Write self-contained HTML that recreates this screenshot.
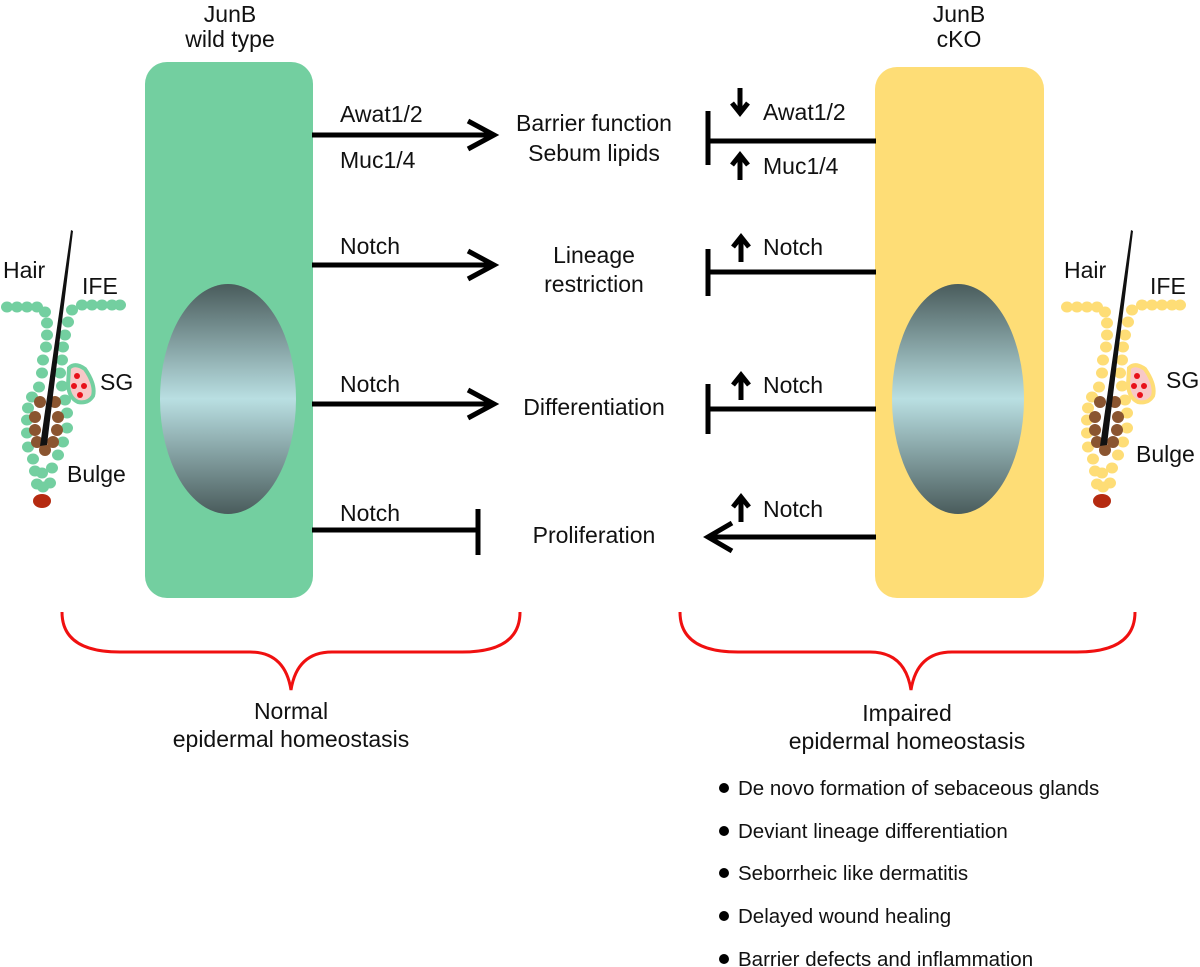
<!DOCTYPE html>
<html><head><meta charset="utf-8"><style>
body{margin:0;background:#fff}
svg{display:block;font-family:"Liberation Sans",sans-serif}
text{font-size:23px;fill:#111}
text.b{font-size:20.5px}
</style></head><body>
<svg width="1200" height="967" viewBox="0 0 1200 967" xmlns="http://www.w3.org/2000/svg">
<defs>
<linearGradient id="g" x1="0" y1="0" x2="0" y2="1">
<stop offset="0" stop-color="#4a5c5c"/><stop offset="0.5" stop-color="#b9dfe2"/><stop offset="1" stop-color="#4a5c5c"/>
</linearGradient>
<g id="fol">
<g fill="currentColor">
<ellipse cx="7" cy="307" rx="6" ry="5.5"/><ellipse cx="17" cy="307" rx="6" ry="5.5"/><ellipse cx="27" cy="307" rx="6" ry="5.5"/><ellipse cx="37" cy="307" rx="6" ry="5.5"/>
<ellipse cx="82" cy="305" rx="6" ry="5.5"/><ellipse cx="92" cy="305" rx="6" ry="5.5"/><ellipse cx="102" cy="305" rx="6" ry="5.5"/><ellipse cx="112" cy="305" rx="6" ry="5.5"/><ellipse cx="120" cy="305" rx="6" ry="5.5"/>
<ellipse cx="45" cy="312" rx="6" ry="5.5"/><ellipse cx="47" cy="323" rx="6" ry="5.5"/><ellipse cx="47" cy="335" rx="6" ry="5.5"/><ellipse cx="46" cy="347" rx="6" ry="5.5"/><ellipse cx="43" cy="360" rx="6" ry="5.5"/><ellipse cx="42" cy="373" rx="6" ry="5.5"/><ellipse cx="39" cy="387" rx="6" ry="5.5"/>
<ellipse cx="32" cy="397" rx="6" ry="5.5"/><ellipse cx="28" cy="408" rx="6" ry="5.5"/><ellipse cx="27" cy="420" rx="6" ry="5.5"/><ellipse cx="27" cy="433" rx="6" ry="5.5"/><ellipse cx="28" cy="447" rx="6" ry="5.5"/><ellipse cx="33" cy="459" rx="6" ry="5.5"/><ellipse cx="35" cy="471" rx="6" ry="5.5"/><ellipse cx="37" cy="484" rx="6" ry="5.5"/>
<ellipse cx="72" cy="310" rx="6" ry="5.5"/><ellipse cx="68" cy="322" rx="6" ry="5.5"/><ellipse cx="65" cy="335" rx="6" ry="5.5"/><ellipse cx="63" cy="347" rx="6" ry="5.5"/><ellipse cx="62" cy="360" rx="6" ry="5.5"/><ellipse cx="60" cy="373" rx="6" ry="5.5"/><ellipse cx="62" cy="386" rx="6" ry="5.5"/>
<ellipse cx="65" cy="400" rx="6" ry="5.5"/><ellipse cx="67" cy="413" rx="6" ry="5.5"/><ellipse cx="67" cy="428" rx="6" ry="5.5"/><ellipse cx="63" cy="442" rx="6" ry="5.5"/><ellipse cx="58" cy="455" rx="6" ry="5.5"/><ellipse cx="52" cy="468" rx="6" ry="5.5"/><ellipse cx="50" cy="483" rx="6" ry="5.5"/>
<ellipse cx="42" cy="473" rx="6" ry="5.5"/><ellipse cx="43" cy="487" rx="6" ry="5.5"/>
</g>
<g fill="#8a5530">
<ellipse cx="40" cy="402" rx="6" ry="6"/><ellipse cx="55" cy="402" rx="6" ry="6"/><ellipse cx="35" cy="417" rx="6" ry="6"/><ellipse cx="58" cy="417" rx="6" ry="6"/><ellipse cx="35" cy="430" rx="6" ry="6"/><ellipse cx="57" cy="430" rx="6" ry="6"/><ellipse cx="37" cy="442" rx="6" ry="6"/><ellipse cx="53" cy="442" rx="6" ry="6"/><ellipse cx="45" cy="450" rx="6" ry="6"/>
</g>
<path d="M69,368 Q75,362 85,369 Q96,385 93,396 Q88,404 78,402 Q69,398 68,385 Z" fill="#f8c8c8" stroke="currentColor" stroke-width="4"/>
<g fill="#e8101a"><circle cx="77" cy="376" r="3"/><circle cx="74" cy="386" r="3"/><circle cx="84" cy="386" r="3"/><circle cx="80" cy="395" r="3"/></g>
<path d="M71,230 L73,231 L47,445 L40,446 Z" fill="#111"/>
<ellipse cx="42" cy="501" rx="9" ry="7" fill="#b52a10"/>
</g>
</defs>

<rect x="145" y="62" width="168" height="536" rx="22" fill="#73cfa0"/>
<rect x="875" y="67" width="169" height="531" rx="22" fill="#fedd76"/>
<ellipse cx="228" cy="399" rx="68" ry="115" fill="url(#g)"/>
<ellipse cx="958" cy="399" rx="66" ry="115" fill="url(#g)"/>

<use href="#fol" style="color:#73cfa0"/>
<use href="#fol" transform="translate(1060,0)" style="color:#fedd76"/>

<text x="3" y="278">Hair</text><text x="82" y="294">IFE</text><text x="100" y="390">SG</text><text x="67" y="482">Bulge</text>
<text x="1064" y="278">Hair</text><text x="1150" y="294">IFE</text><text x="1166" y="388">SG</text><text x="1136" y="462">Bulge</text>

<text x="230" y="22" text-anchor="middle">JunB</text><text x="230" y="47" text-anchor="middle">wild type</text>
<text x="959" y="22" text-anchor="middle">JunB</text><text x="959" y="47" text-anchor="middle">cKO</text>

<g stroke="#000" stroke-width="5" fill="none">
<line x1="312" y1="135" x2="494" y2="135"/><polyline points="468,121 494,135 468,149"/>
<line x1="312" y1="265" x2="494" y2="265"/><polyline points="468,251 494,265 468,279"/>
<line x1="312" y1="404" x2="494" y2="404"/><polyline points="468,390 494,404 468,418"/>
<line x1="312" y1="530" x2="478" y2="530"/><line x1="478" y1="509" x2="478" y2="555"/>
<line x1="708" y1="141" x2="876" y2="141"/><line x1="708" y1="111" x2="708" y2="165"/>
<line x1="708" y1="272" x2="876" y2="272"/><line x1="708" y1="249" x2="708" y2="296"/>
<line x1="708" y1="409" x2="876" y2="409"/><line x1="708" y1="384" x2="708" y2="434"/>
<line x1="708" y1="537" x2="876" y2="537"/><polyline points="732,523 708,537 732,551"/>
<line x1="740" y1="88" x2="740" y2="112"/><polyline points="732,103 740,113 748,103"/>
<line x1="740" y1="180" x2="740" y2="156"/><polyline points="732,165 740,155 748,165"/>
<line x1="741" y1="262" x2="741" y2="238"/><polyline points="733,247 741,237 749,247"/>
<line x1="741" y1="400" x2="741" y2="376"/><polyline points="733,385 741,375 749,385"/>
<line x1="741" y1="522" x2="741" y2="498"/><polyline points="733,507 741,497 749,507"/>
</g>

<text x="340" y="122">Awat1/2</text><text x="340" y="168">Muc1/4</text>
<text x="340" y="254">Notch</text><text x="340" y="392">Notch</text><text x="340" y="521">Notch</text>
<text x="594" y="131" text-anchor="middle">Barrier function</text><text x="594" y="161" text-anchor="middle">Sebum lipids</text>
<text x="594" y="263" text-anchor="middle">Lineage</text><text x="594" y="292" text-anchor="middle">restriction</text>
<text x="594" y="415" text-anchor="middle">Differentiation</text>
<text x="594" y="543" text-anchor="middle">Proliferation</text>
<text x="763" y="120">Awat1/2</text><text x="763" y="174">Muc1/4</text>
<text x="763" y="255">Notch</text><text x="763" y="393">Notch</text><text x="763" y="517">Notch</text>

<g stroke="#f01010" stroke-width="3" fill="none">
<path d="M62,612 Q62,652 120,652 L250,652 Q285,652 291,690 Q297,652 332,652 L462,652 Q520,652 520,612"/>
<path d="M680,612 Q680,652 738,652 L870,652 Q905,652 911,690 Q917,652 952,652 L1077,652 Q1135,652 1135,612"/>
</g>
<text x="291" y="719" text-anchor="middle">Normal</text><text x="291" y="747" text-anchor="middle">epidermal homeostasis</text>
<text x="907" y="721" text-anchor="middle">Impaired</text><text x="907" y="749" text-anchor="middle">epidermal homeostasis</text>

<g fill="#000"><circle cx="724" cy="788" r="5"/><circle cx="724" cy="831" r="5"/><circle cx="724" cy="873" r="5"/><circle cx="724" cy="916" r="5"/><circle cx="724" cy="959" r="5"/></g>
<text class="b" x="738" y="795">De novo formation of sebaceous glands</text>
<text class="b" x="738" y="838">Deviant lineage differentiation</text>
<text class="b" x="738" y="880">Seborrheic like dermatitis</text>
<text class="b" x="738" y="923">Delayed wound healing</text>
<text class="b" x="738" y="966">Barrier defects and inflammation</text>
</svg>
</body></html>
